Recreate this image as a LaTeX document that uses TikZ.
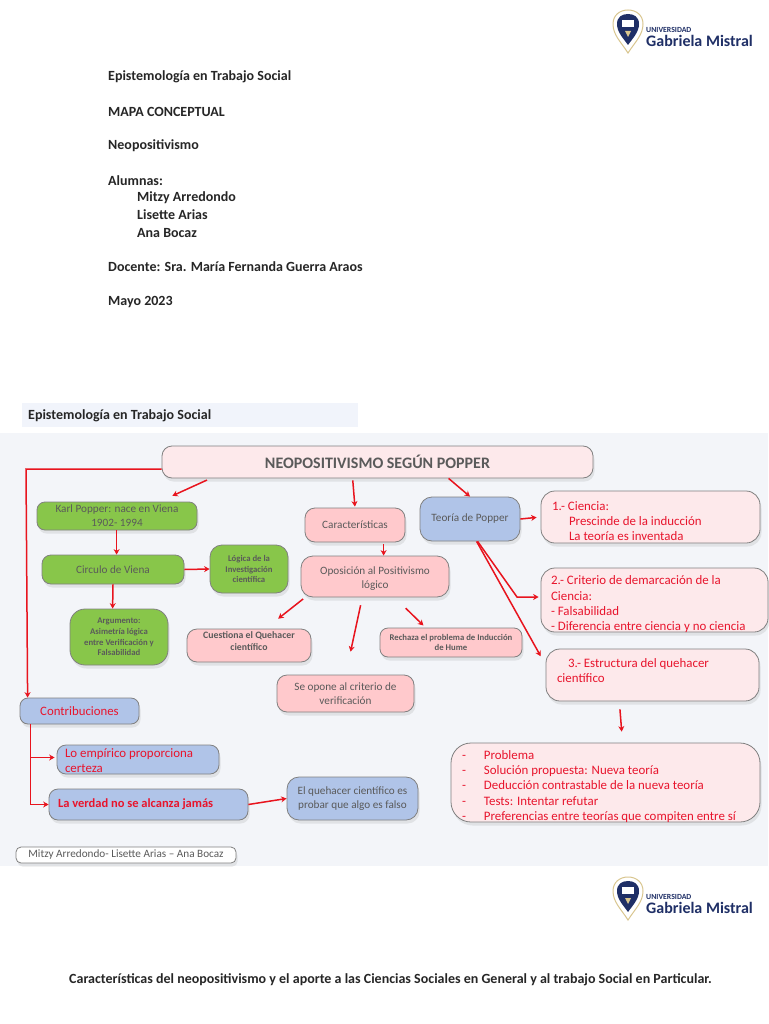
\documentclass[tikz,border=0pt]{standalone}
\usepackage{fontspec}
\setmainfont{Carlito}
\usetikzlibrary{shadows,arrows.meta}
\definecolor{panelbg}{HTML}{F3F5F9}
\definecolor{stripbg}{HTML}{F1F4FB}
\definecolor{grn}{HTML}{88C64A}
\definecolor{pnk}{HTML}{FFC9CC}
\definecolor{lpnk}{HTML}{FDE9EB}
\definecolor{blu}{HTML}{B0C4E8}
\definecolor{redt}{HTML}{E8142C}
\definecolor{arrred}{HTML}{E8141E}
\definecolor{grayt}{HTML}{5A5A5A}
\definecolor{navy}{HTML}{1F2F66}
\definecolor{gold}{HTML}{D9C68F}
\definecolor{txtd}{HTML}{262626}
\newcommand{\tshift}[2]{\raisebox{#1}[\height][\depth]{#2}}
\tikzset{
  x=1pt,y=-1pt,
  plain/.style={anchor=west,inner sep=0pt,font=\fontsize{14}{16}\selectfont\bfseries,text=txtd},
  cbox/.style={draw=black!50,line width=.8pt,rounded corners=#1,inner sep=0pt,align=center,
    drop shadow={opacity=.16,shadow xshift=1.5pt,shadow yshift=-3.5pt}},
  cbox/.default=10pt,
  grnbox/.style={cbox=#1,fill=grn,text=grayt},
  pnkbox/.style={cbox=#1,fill=pnk,text=grayt},
  lpbox/.style={cbox=#1,fill=lpnk,text=redt},
  blubox/.style={cbox=#1,fill=blu,text=grayt},
  arr/.style={draw=arrred,line width=1.5pt,-{Stealth[length=5.5pt,width=6pt]}},
  small/.style={font=\fontsize{8.7}{10.8}\selectfont\bfseries},
  midf/.style={font=\fontsize{11.2}{14}\selectfont},
  redf/.style={font=\fontsize{12.9}{15.3}\selectfont},
}
\newcommand{\ugmlogo}[2]{%
  \begin{scope}[shift={(0,#2)}]
    \path[fill=white,draw=gold,line width=1pt]
      (628,53) .. controls (621,42) and (613,35) .. (613,24)
      .. controls (613,15) and (620,10) .. (628,10)
      .. controls (636,10) and (643,15) .. (643,24)
      .. controls (643,35) and (635,42) .. (628,53) -- cycle;
    \fill[navy] (628,45) .. controls (623,38) and (617,32) .. (617,24)
      .. controls (617,17) and (622,14) .. (628,14)
      .. controls (634,14) and (639,17) .. (639,24)
      .. controls (639,32) and (633,38) .. (628,45) -- cycle;
    \fill[white] (622,20) rectangle (634,27);
    \fill[gold] (625,31) -- (631,31) -- (628,37) -- cycle;
    \node[anchor=west,inner sep=0pt,text=navy,font=\fontsize{7.8}{9}\selectfont\bfseries] (#1a) at (646,30) {UNIVERSIDAD};
    \node[anchor=west,inner sep=0pt,text=navy,font=\fontsize{16}{17}\selectfont\bfseries] (#1b) at (646,41) {Gabriela Mistral};
  \end{scope}}
\begin{document}
\begin{tikzpicture}
\useasboundingbox (0,0) rectangle (768,1024);
\fill[white] (0,0) rectangle (768,1024);
\fill[panelbg] (0,433) rectangle (768,866);
\fill[stripbg] (22,403) rectangle (358,427);
\ugmlogo{la}{0}
\ugmlogo{lb}{867}
% header text
\node[plain] (h1) at (108,77) {Epistemología en Trabajo Social};
\node[plain] (h2) at (108,112) {MAPA CONCEPTUAL};
\node[plain] (h3) at (108,146) {Neopositivismo};
\node[plain] (h4) at (108,181) {Alumnas:};
\node[plain] (h5) at (137,198) {Mitzy Arredondo};
\node[plain] (h6) at (137,215) {Lisette Arias};
\node[plain] (h7) at (137,233) {Ana Bocaz};
\node[plain] (h8) at (108,267) {Docente: Sra. María Fernanda Guerra Araos};
\node[plain] (h9) at (108,302) {Mayo 2023};
\node[plain] (h10) at (28,416) {Epistemología en Trabajo Social};
\node[plain,anchor=center] (cap) at (390.5,980) {Características del neopositivismo y el aporte a las Ciencias Sociales en General y al trabajo Social en Particular.};
% nodes
\node[lpbox=10pt,text=grayt,minimum width=431pt,minimum height=32pt,font=\fontsize{16}{18}\selectfont\bfseries] (title) at (377.5,462) {NEOPOSITIVISMO SEGÚN POPPER};
\node[grnbox=8pt,minimum width=160pt,minimum height=28pt,midf] (karl) at (117,516) {Karl Popper: nace en Viena\\1902- 1994};
\node[grnbox=9pt,minimum width=142pt,minimum height=29pt,midf] (circ) at (113,569.5) {Circulo de Viena};
\node[grnbox=12pt,minimum width=78pt,minimum height=48pt,small] (logica) at (249,569) {Lógica de la\\Investigación\\científica};
\node[grnbox=15pt,minimum width=98pt,minimum height=56pt,small] (argu) at (119,637) {Argumento:\\Asimetría lógica\\entre Verificación y\\Falsabilidad};
\node[pnkbox=10pt,minimum width=100pt,minimum height=34pt,midf] (carac) at (355,525) {Características};
\node[pnkbox=12pt,minimum width=148pt,minimum height=41pt,midf] (opos) at (375,576.5) {\tshift{-2pt}{\parbox{140pt}{\centering Oposición al Positivismo\\lógico}}};
\node[pnkbox=10pt,minimum width=124pt,minimum height=33pt,font=\fontsize{9.8}{12.5}\selectfont\bfseries] (cuest) at (249,645.5) {\tshift{4.5pt}{\parbox{118pt}{\centering Cuestiona el Quehacer\\científico}}};
\node[pnkbox=8pt,minimum width=142pt,minimum height=29pt,small] (rech) at (451,642.5) {Rechaza el problema de Inducción\\de Hume};
\node[pnkbox=10pt,minimum width=137pt,minimum height=37pt,midf] (seop) at (345.5,693.5) {Se opone al criterio de\\verificación};
\node[blubox=8pt,text=redt,minimum width=119pt,minimum height=26pt,font=\fontsize{12.8}{15}\selectfont] (contrib) at (79.5,711) {Contribuciones};
\node[blubox=9pt,text=redt,minimum width=162pt,minimum height=29pt,redf] (lo) at (138,759.5) {\tshift{-1pt}{\parbox{146pt}{Lo empírico proporciona\\certeza}}};
\node[blubox=9pt,text=redt,minimum width=199pt,minimum height=31pt,font=\fontsize{12.5}{15}\selectfont\bfseries] (verd) at (148.5,804.5) {\parbox{181pt}{La verdad no se alcanza jamás}};
\node[blubox=12pt,minimum width=131pt,minimum height=43pt,midf] (queh) at (352.5,798.5) {El quehacer científico es\\probar que algo es falso};
\node[cbox=5pt,fill=white,text=grayt,minimum width=220pt,minimum height=16pt,font=\fontsize{11.2}{13}\selectfont,drop shadow={opacity=0}] (mitzy) at (126,855) {Mitzy Arredondo- Lisette Arias – Ana Bocaz};
\node[blubox=12pt,minimum width=100pt,minimum height=44pt,midf] (teoria) at (470,519) {Teoría de Popper};
\node[lpbox=14pt,minimum width=219pt,minimum height=52pt,redf] (b1) at (650.5,517) {\tshift{-4pt}{\parbox{197pt}{1.- Ciencia:\\\hspace*{17pt}Prescinde de la inducción\\\hspace*{17pt}La teoría es inventada}}};
\node[lpbox=14pt,minimum width=227pt,minimum height=64pt,redf] (b2) at (654.5,600) {\tshift{-4.5pt}{\parbox{207pt}{2.- Criterio de demarcación de la\\Ciencia:\\- Falsabilidad\\- Diferencia entre ciencia y no ciencia}}};
\node[lpbox=14pt,minimum width=213pt,minimum height=52pt,redf] (b3) at (652.5,675) {\tshift{4.5pt}{\parbox{191pt}{\hspace*{11pt}3.- Estructura del quehacer\\científico}}};
\node[lpbox=20pt,minimum width=309pt,minimum height=79pt,redf] (blist) at (605.5,782.5) {\tshift{-4pt}{\parbox{287pt}{-\hspace{18pt}Problema\\-\hspace{18pt}Solución propuesta: Nueva teoría\\-\hspace{18pt}Deducción contrastable de la nueva teoría\\-\hspace{18pt}Tests: Intentar refutar\\-\hspace{18pt}Preferencias entre teorías que compiten entre sí}}};
% connectors
\coordinate (bendA) at (26,469);
\coordinate (bendB) at (517,597);
\draw[arr] ([yshift=-7pt]title.west) -- (bendA) -- ([xshift=8pt]contrib.north west);
\draw[arr,shorten <=4pt,shorten >=14pt] ([xshift=49pt]title.south west) -- ([xshift=123pt]karl.north west);
\draw[arr,shorten <=2pt,shorten >=1pt] ([xshift=191pt]title.south west) -- (carac.north);
\draw[arr] ([xshift=287pt]title.south west) -- (teoria.north);
\draw[arr] ([xshift=80pt]karl.south west) -- ([xshift=75pt]circ.north west);
\draw[arr] (circ.east) -- (logica.west);
\draw[arr] (circ.south) -- ([xshift=43pt]argu.north west);
\draw[arr,shorten <=2pt] ([xshift=79pt]carac.south west) -- ([xshift=83pt]opos.north west);
\draw[arr,shorten <=2.5pt,shorten >=16pt] ([xshift=4.5pt]opos.south west) -- ([xshift=79pt]cuest.north west);
\draw[arr,shorten <=8pt,shorten >=23.5pt] ([xshift=61.7pt]opos.south west) -- ([xshift=69pt]seop.north west);
\draw[arr,shorten <=15.5pt,shorten >=3pt] ([xshift=94pt]opos.south west) -- ([xshift=46pt]rech.north west);
\draw[arr,shorten >=4pt] (teoria.east) -- (b1.west);
\draw[arr,shorten >=2pt] ([xshift=58pt]teoria.south west) -- (bendB) -- ([yshift=3pt]b2.west);
\draw[arr,shorten >=10pt] ([xshift=57pt]teoria.south west) -- ([yshift=10pt]b3.west);
\draw[arr,shorten <=8pt,shorten >=11pt] ([xshift=73.7pt]b3.south west) -- ([xshift=172pt]blist.north west);
\draw[arr] (verd.east) -- (queh.west);
\draw[arr,shorten >=2pt] ([xshift=11pt]contrib.south west) |- ([yshift=2pt]lo.west);
\draw[arr] ([xshift=11pt]contrib.south west) |- (verd.west);
\end{tikzpicture}
\end{document}
